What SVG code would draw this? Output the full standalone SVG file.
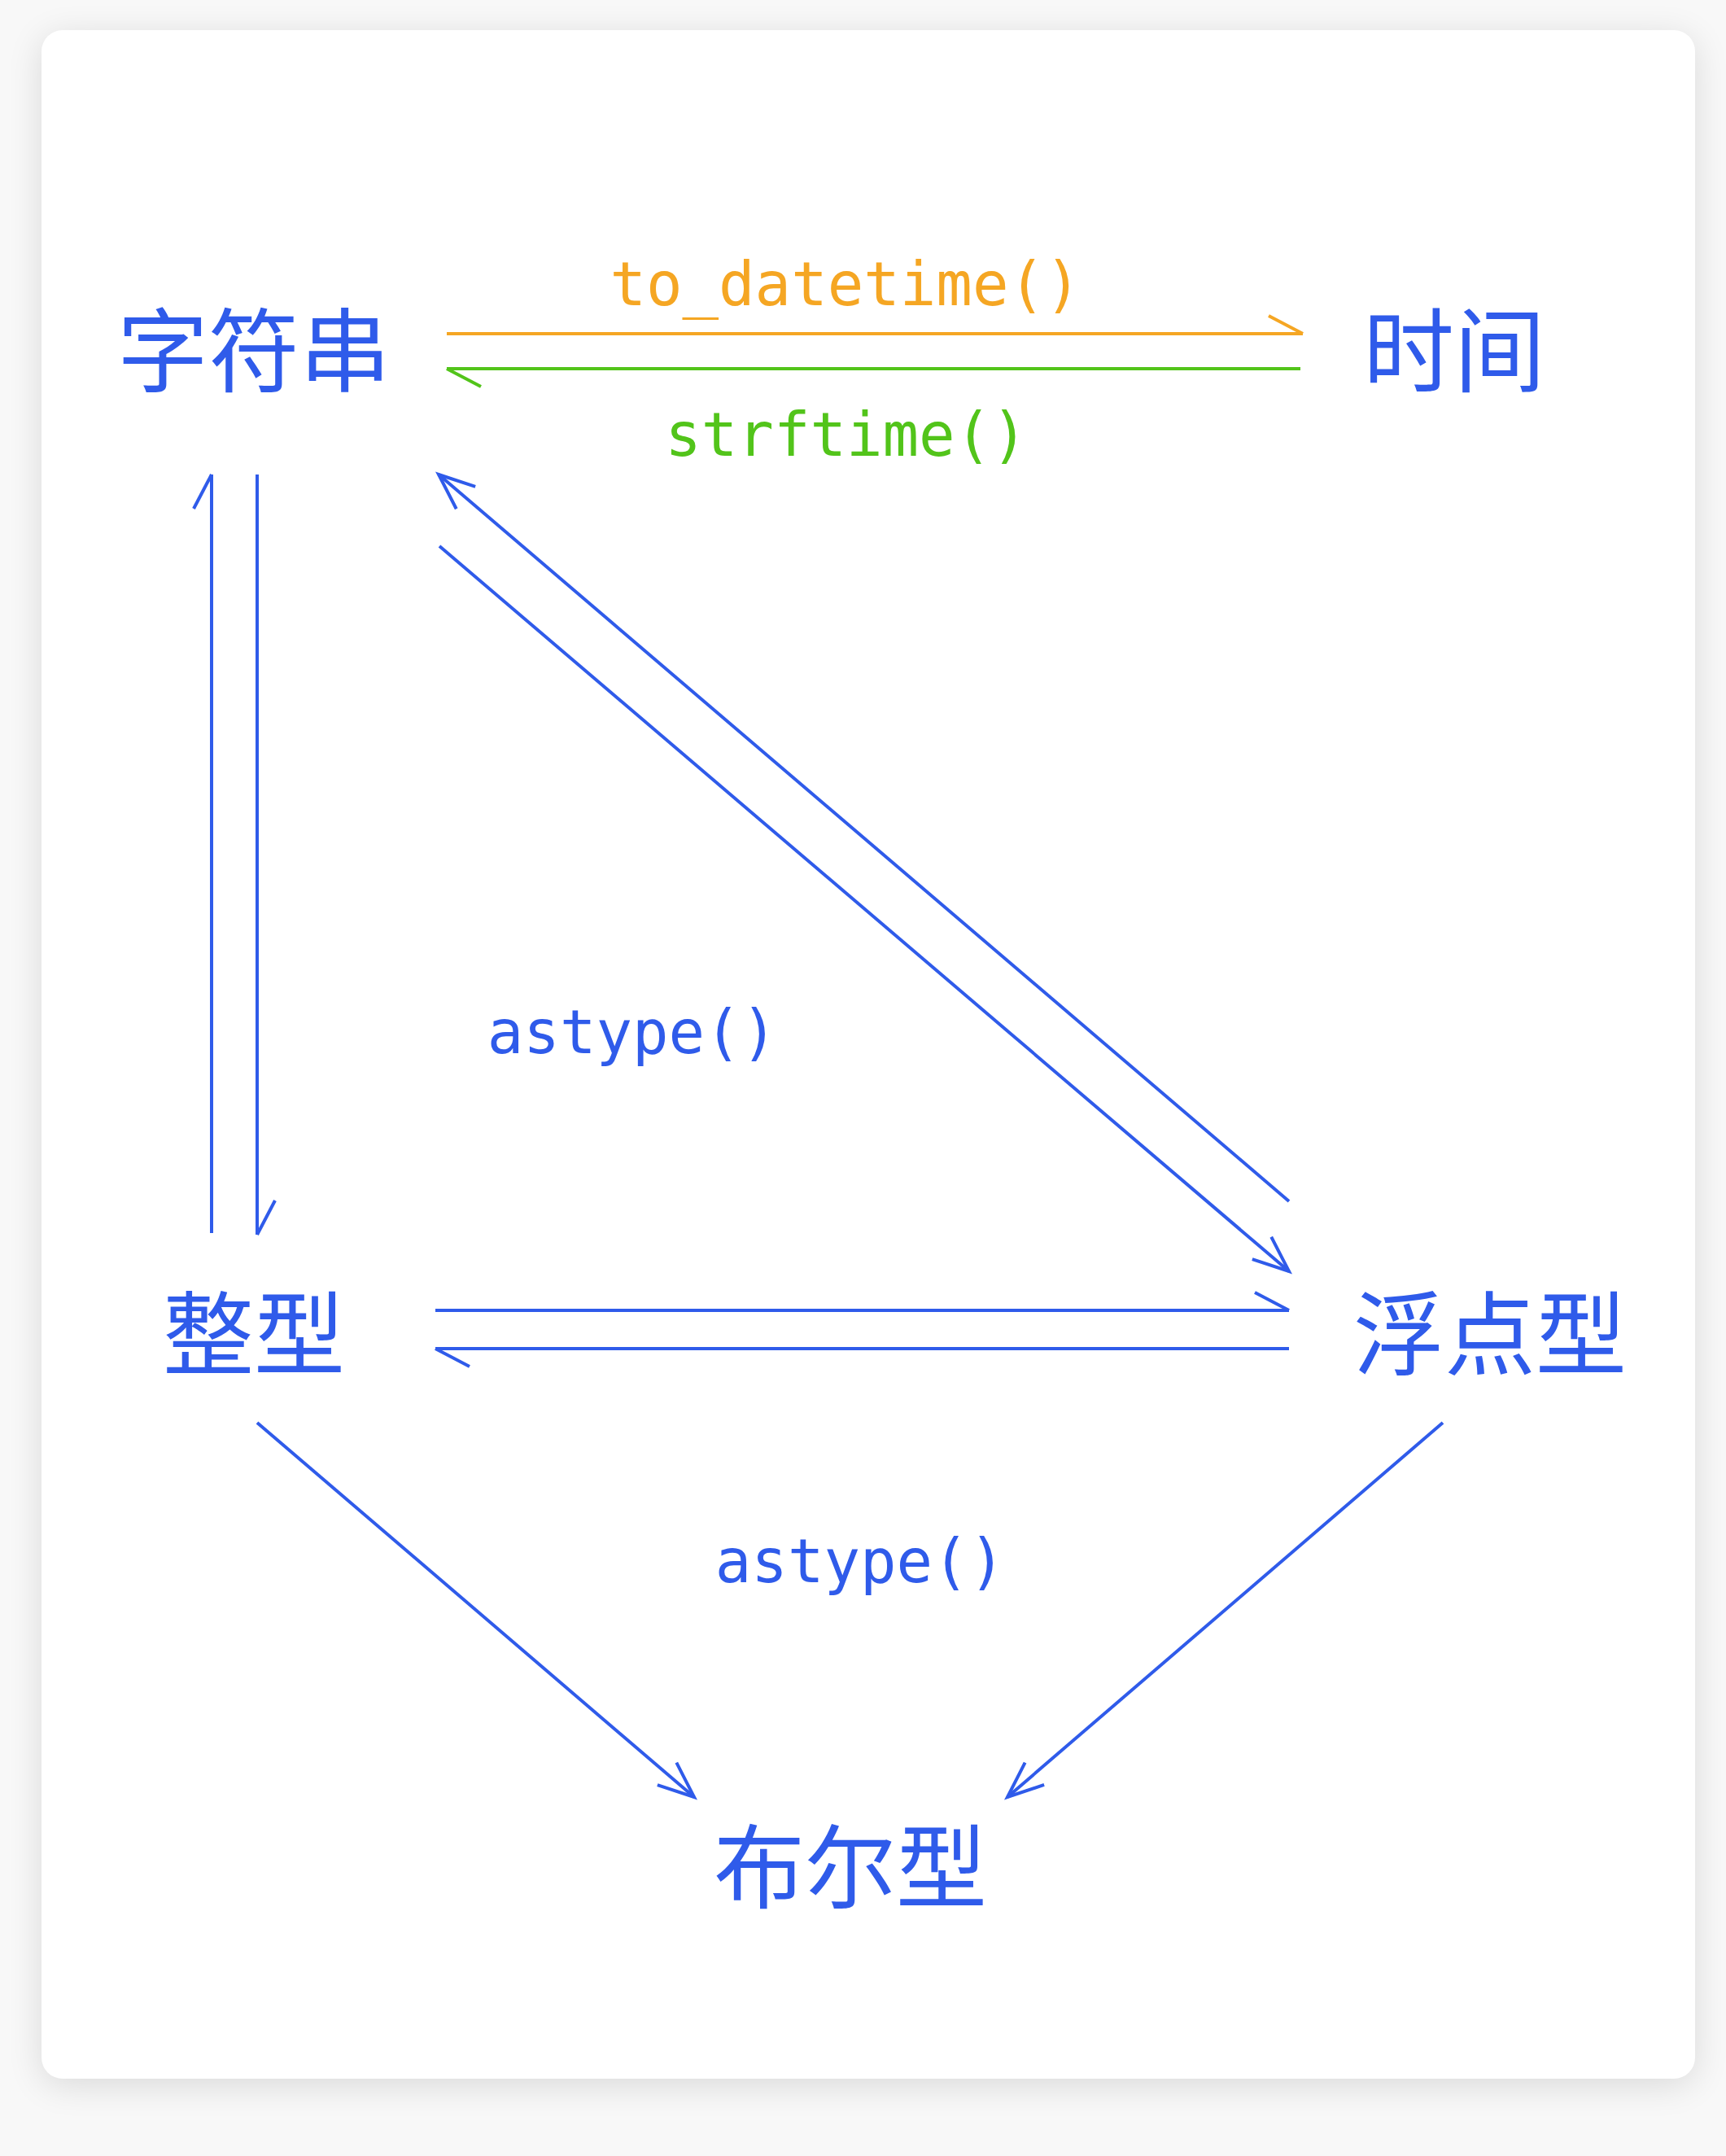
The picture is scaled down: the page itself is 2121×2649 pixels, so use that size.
<svg xmlns="http://www.w3.org/2000/svg" width="2121" height="2649" viewBox="0 0 2121 2649">
<defs>
<filter id="sh" x="-10%" y="-10%" width="120%" height="120%"><feGaussianBlur stdDeviation="22"/></filter>
<marker id="hb" markerUnits="userSpaceOnUse" markerWidth="60" markerHeight="60" viewBox="-50 -30 60 60" refX="0" refY="0" orient="auto"><path d="M-42 -22 L0 0" fill="none" stroke="#2F5BEA" stroke-width="4"/></marker>
<marker id="ho" markerUnits="userSpaceOnUse" markerWidth="60" markerHeight="60" viewBox="-50 -30 60 60" refX="0" refY="0" orient="auto"><path d="M-42 -22 L0 0" fill="none" stroke="#F5A623" stroke-width="4"/></marker>
<marker id="hg" markerUnits="userSpaceOnUse" markerWidth="60" markerHeight="60" viewBox="-50 -30 60 60" refX="0" refY="0" orient="auto"><path d="M-42 -22 L0 0" fill="none" stroke="#52C41A" stroke-width="4"/></marker>
<marker id="vb" markerUnits="userSpaceOnUse" markerWidth="60" markerHeight="60" viewBox="-50 -30 60 60" refX="0" refY="0" orient="auto"><path d="M-44 -18 L0 0 L-44 18" fill="none" stroke="#2F5BEA" stroke-width="4"/></marker>
</defs>
<style>
.n{font-family:"Noto Sans CJK SC",sans-serif;font-size:112px;fill:#2F5BEA;text-anchor:middle}
.l{font-family:"DejaVu Sans Mono",monospace;font-size:74px;text-anchor:middle}
.c{fill:none;stroke:#2F5BEA;stroke-width:4}
</style>
<rect x="0" y="0" width="2121" height="2649" fill="#F8F8F8"/>
<rect x="51" y="45" width="2032" height="2517" rx="26" fill="#000" opacity="0.12" filter="url(#sh)"/>
<rect x="51" y="37" width="2032" height="2517" rx="26" fill="#FFFFFF"/>
<g id="connectors">
<line x1="549" y1="410" x2="1601" y2="410" stroke="#F5A623" stroke-width="4" marker-end="url(#ho)"/>
<line x1="1598" y1="453" x2="549" y2="453" stroke="#52C41A" stroke-width="4" marker-end="url(#hg)"/>
<line class="c" x1="260" y1="1515" x2="260" y2="583" marker-end="url(#hb)"/>
<line class="c" x1="316" y1="583" x2="316" y2="1517" marker-end="url(#hb)"/>
<line class="c" x1="1584" y1="1476" x2="539" y2="583" marker-end="url(#vb)"/>
<line class="c" x1="540" y1="671" x2="1584" y2="1562" marker-end="url(#vb)"/>
<line class="c" x1="535" y1="1610" x2="1584" y2="1610" marker-end="url(#hb)"/>
<line class="c" x1="1584" y1="1657" x2="535" y2="1657" marker-end="url(#hb)"/>
<line class="c" x1="316" y1="1748" x2="853" y2="2208" marker-end="url(#vb)"/>
<line class="c" x1="1773" y1="1748" x2="1238" y2="2208" marker-end="url(#vb)"/>
<text class="l" x="1039" y="375" fill="#F5A623">to_datetime()</text>
<text class="l" x="1040" y="560" fill="#52C41A">strftime()</text>
<text class="l" x="777" y="1294" fill="#2F5BEA">astype()</text>
<text class="l" x="1057" y="1944" fill="#2F5BEA">astype()</text>
</g>
<g id="n-str"><text class="n" x="312" y="473">字符串</text></g>
<g id="n-time"><text class="n" x="1787" y="473">时间</text></g>
<g id="n-int"><text class="n" x="312" y="1681">整型</text></g>
<g id="n-float"><text class="n" x="1831" y="1681">浮点型</text></g>
<g id="n-bool"><text class="n" x="1045" y="2336">布尔型</text></g>
</svg>
